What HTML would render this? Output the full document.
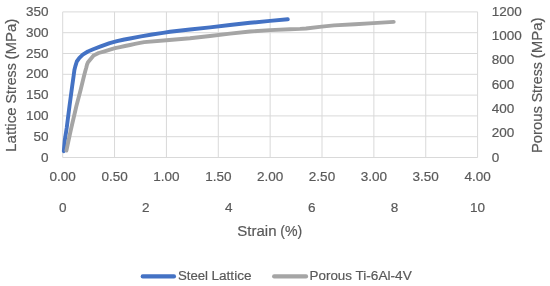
<!DOCTYPE html>
<html lang="en"><head><meta charset="utf-8"><title>Stress-Strain Chart</title>
<style>html,body{margin:0;padding:0;background:#fff;}svg{display:block;}text{font-family:"Liberation Sans",sans-serif;fill:#595959;stroke:#595959;stroke-width:0.2px;}</style></head><body>
<svg width="550" height="286" viewBox="0 0 550 286">
<rect width="550" height="286" fill="#fff"/>
<g stroke="#D9D9D9" stroke-width="1" fill="none">
<line x1="62.7" y1="11.90" x2="477.6" y2="11.90"/>
<line x1="62.7" y1="32.70" x2="477.6" y2="32.70"/>
<line x1="62.7" y1="53.50" x2="477.6" y2="53.50"/>
<line x1="62.7" y1="74.30" x2="477.6" y2="74.30"/>
<line x1="62.7" y1="95.10" x2="477.6" y2="95.10"/>
<line x1="62.7" y1="115.90" x2="477.6" y2="115.90"/>
<line x1="62.7" y1="136.70" x2="477.6" y2="136.70"/>
<line x1="62.7" y1="157.50" x2="477.6" y2="157.50"/>
<line x1="62.70" y1="11.9" x2="62.70" y2="157.5"/>
<line x1="114.56" y1="11.9" x2="114.56" y2="157.5"/>
<line x1="166.43" y1="11.9" x2="166.43" y2="157.5"/>
<line x1="218.29" y1="11.9" x2="218.29" y2="157.5"/>
<line x1="270.15" y1="11.9" x2="270.15" y2="157.5"/>
<line x1="322.01" y1="11.9" x2="322.01" y2="157.5"/>
<line x1="373.88" y1="11.9" x2="373.88" y2="157.5"/>
<line x1="425.74" y1="11.9" x2="425.74" y2="157.5"/>
<line x1="477.60" y1="11.9" x2="477.60" y2="157.5"/>
</g>
<path d="M63.8,151.2 L64.8,140.0 L66.7,128.0 L69.5,106.0 L72.2,86.0 L73.6,76.0 L74.4,70.0 L75.3,66.4 L76.8,61.5 L79.4,57.9 L82.8,54.6 L87.9,51.5 L93.8,49.0 L100.0,46.7 L109.7,43.2 L117.0,41.2 L124.4,39.5 L130.0,38.5 L141.0,36.4 L152.0,34.5 L163.0,32.9 L170.0,31.8 L190.0,29.5 L210.0,27.4 L230.0,25.0 L250.0,22.8 L270.0,20.9 L287.8,19.3" fill="none" stroke="#4472C4" stroke-width="3.9" stroke-linecap="round" stroke-linejoin="round"/>
<path d="M66.4,150.6 L70.8,130.0 L76.4,106.0 L80.6,90.0 L84.0,76.0 L85.3,71.0 L86.3,67.5 L87.0,64.6 L88.0,62.3 L93.6,55.4 L98.6,53.0 L104.5,51.3 L110.0,49.6 L115.0,48.2 L120.0,47.1 L125.0,46.0 L130.0,45.0 L135.0,43.9 L140.0,42.9 L144.2,42.1 L166.4,40.2 L190.0,38.2 L210.0,36.0 L230.0,33.6 L250.0,31.5 L270.0,30.1 L290.0,29.3 L300.0,28.9 L306.0,28.5 L321.7,26.6 L334.0,25.4 L355.0,24.2 L373.4,23.1 L393.7,21.9" fill="none" stroke="#A5A5A5" stroke-width="3.9" stroke-linecap="round" stroke-linejoin="round"/>
<g font-size="13.5" text-anchor="end">
<text x="48.6" y="15.90">350</text>
<text x="48.6" y="36.70">300</text>
<text x="48.6" y="57.50">250</text>
<text x="48.6" y="78.30">200</text>
<text x="48.6" y="99.10">150</text>
<text x="48.6" y="119.90">100</text>
<text x="48.6" y="140.70">50</text>
<text x="48.6" y="161.50">0</text>
</g>
<g font-size="13.5" text-anchor="start">
<text x="491.8" y="15.90">1200</text>
<text x="491.8" y="40.17">1000</text>
<text x="491.8" y="64.43">800</text>
<text x="491.8" y="88.70">600</text>
<text x="491.8" y="112.97">400</text>
<text x="491.8" y="137.23">200</text>
<text x="491.8" y="161.50">0</text>
</g>
<g font-size="13.5" text-anchor="middle">
<text x="62.70" y="181.1">0.00</text>
<text x="114.56" y="181.1">0.50</text>
<text x="166.43" y="181.1">1.00</text>
<text x="218.29" y="181.1">1.50</text>
<text x="270.15" y="181.1">2.00</text>
<text x="322.01" y="181.1">2.50</text>
<text x="373.88" y="181.1">3.00</text>
<text x="425.74" y="181.1">3.50</text>
<text x="477.60" y="181.1">4.00</text>
<text x="62.70" y="211.8">0</text>
<text x="145.68" y="211.8">2</text>
<text x="228.66" y="211.8">4</text>
<text x="311.64" y="211.8">6</text>
<text x="394.62" y="211.8">8</text>
<text x="477.60" y="211.8">10</text>
</g>
<text y="236.1" font-size="15.2"><tspan x="237.34" textLength="39.19" lengthAdjust="spacingAndGlyphs">Strain</tspan> <tspan x="280.29" textLength="21.98" lengthAdjust="spacingAndGlyphs">(%)</tspan></text>
<text transform="translate(16.4,151.9) rotate(-90)" font-size="15.2"><tspan x="0.00" textLength="44.61" lengthAdjust="spacingAndGlyphs">Lattice</tspan> <tspan x="48.40" textLength="40.32" lengthAdjust="spacingAndGlyphs">Stress</tspan> <tspan x="92.49" textLength="40.75" lengthAdjust="spacingAndGlyphs">(MPa)</tspan></text>
<text transform="translate(542,153.0) rotate(-90)" font-size="15.2"><tspan x="0.00" textLength="46.85" lengthAdjust="spacingAndGlyphs">Porous</tspan> <tspan x="50.63" textLength="40.32" lengthAdjust="spacingAndGlyphs">Stress</tspan> <tspan x="94.73" textLength="40.75" lengthAdjust="spacingAndGlyphs">(MPa)</tspan></text>
<text y="280.3" font-size="13.7"><tspan x="177.90" textLength="30.18" lengthAdjust="spacingAndGlyphs">Steel</tspan> <tspan x="211.48" textLength="40.07" lengthAdjust="spacingAndGlyphs">Lattice</tspan></text>
<text y="280.3" font-size="13.7"><tspan x="309.60" textLength="42.42" lengthAdjust="spacingAndGlyphs">Porous</tspan> <tspan x="355.44" textLength="56.32" lengthAdjust="spacingAndGlyphs">Ti-6Al-4V</tspan></text>
<line x1="142.7" y1="276.4" x2="174.0" y2="276.4" stroke="#4472C4" stroke-width="4.1" stroke-linecap="round"/>
<line x1="274.1" y1="276.4" x2="306.1" y2="276.4" stroke="#A5A5A5" stroke-width="4.1" stroke-linecap="round"/>
</svg></body></html>
